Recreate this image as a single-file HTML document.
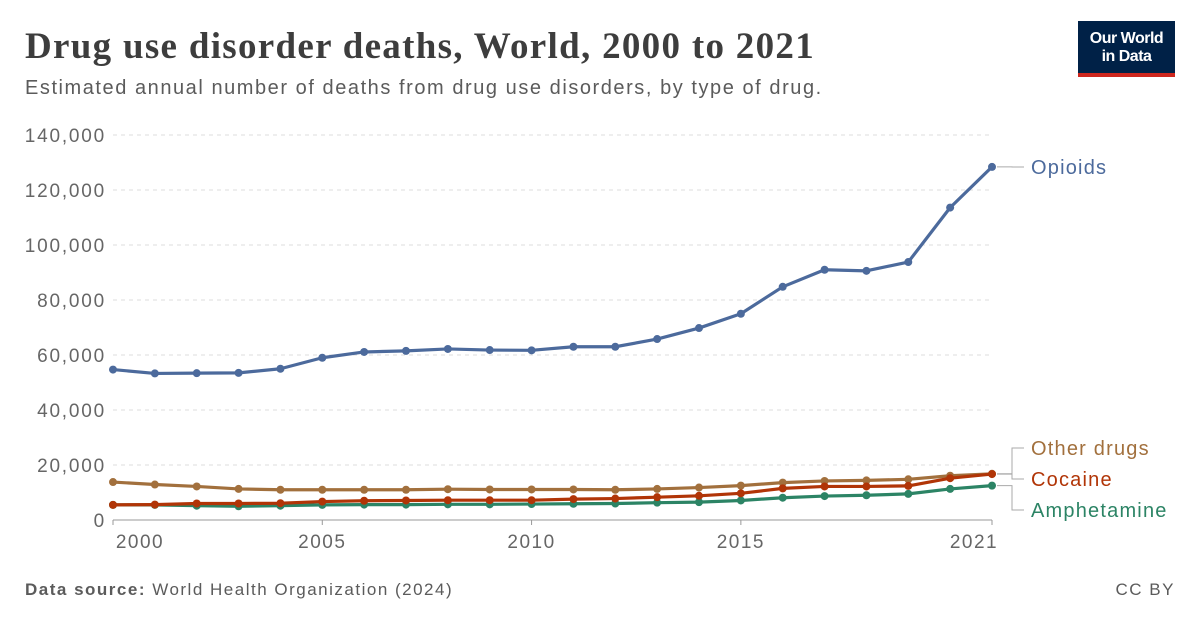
<!DOCTYPE html>
<html><head><meta charset="utf-8"><style>
body{margin:0;width:1200px;height:627px;background:#fff;font-family:"Liberation Sans",sans-serif;overflow:hidden;position:relative}
.t{position:absolute;left:25px;top:25px;font-family:"Liberation Serif",serif;font-size:37px;font-weight:bold;color:#3d3d3d;letter-spacing:1.3px}
.s{position:absolute;left:25px;top:77px;font-size:20px;color:#5b5b5b;letter-spacing:1.55px}
.f{position:absolute;top:580px;font-size:17px;color:#5b5b5b;letter-spacing:1.5px}
.logo{position:absolute;left:1078px;top:21px;width:97px;height:56px;background:#002147;border-bottom:4px solid #ce261e;color:#fff;font-size:16px;font-weight:bold;letter-spacing:-0.5px;text-align:center;line-height:18px;padding-top:9px;box-sizing:border-box}
</style></head><body>
<div class="t">Drug use disorder deaths, World, 2000 to 2021</div>
<div class="s">Estimated annual number of deaths from drug use disorders, by type of drug.</div>
<div class="logo">Our World<br>in Data</div>
<div class="f" style="left:25px"><b>Data source:</b> World Health Organization (2024)</div>
<div class="f" style="right:25px">CC BY</div>
<svg id="c" width="1200" height="627" style="position:absolute;left:0;top:0"></svg>
<script>
const years=[2000,2001,2002,2003,2004,2005,2006,2007,2008,2009,2010,2011,2012,2013,2014,2015,2016,2017,2018,2019,2020,2021];
const opioids=[54700,53300,53400,53500,55000,59000,61100,61500,62200,61800,61700,63000,63000,65800,69800,75000,84800,91000,90600,93800,113600,128400];
const otherDrugs=[13800,12900,12200,11300,11000,11000,11000,11000,11200,11100,11100,11100,11000,11300,11800,12500,13600,14200,14400,14800,16100,16800];
const cocaine=[5500,5600,6000,6000,6100,6700,7000,7100,7200,7200,7200,7600,7800,8300,8800,9700,11500,12200,12200,12400,15200,16700];
const amphetamine=[5500,5500,5200,5000,5200,5500,5600,5600,5700,5700,5800,5900,6000,6300,6500,7100,8100,8700,9000,9500,11300,12500];
const yTicks=[0,20000,40000,60000,80000,100000,120000,140000];
const xTicks=[2000,2005,2010,2015,2021];
const X=y=>113+(y-2000)*(992-113)/21;
const Y=v=>520-v*(385/140000);
const svg=document.getElementById('c');const NS='http://www.w3.org/2000/svg';
function el(t,a,txt){const e=document.createElementNS(NS,t);for(const k in a)e.setAttribute(k,a[k]);if(txt!==undefined)e.textContent=txt;svg.appendChild(e);return e;}
yTicks.forEach(v=>{
 if(v>0){const g=el('line',{x1:113,x2:992,y1:Y(v),y2:Y(v),stroke:'#ddd','stroke-dasharray':'4,4'});
 
 }
 const t=el('text',{x:106,y:Y(v)+7,'text-anchor':'end','font-size':19,fill:'#666','font-family':'Liberation Sans','letter-spacing':1.8},v.toLocaleString('en-US'));
 
 
});
const ax=el('line',{x1:113,x2:992,y1:520,y2:520,stroke:'#999'});


xTicks.forEach((yr,i)=>{
 el('line',{x1:X(yr),x2:X(yr),y1:520,y2:525,stroke:'#999'});
 let x=X(yr);if(i==0)x+=27;if(i==xTicks.length-1)x-=18;
 const t=el('text',{x:x,y:548,'text-anchor':'middle','font-size':19,fill:'#666','font-family':'Liberation Sans','letter-spacing':1.5},yr);
 
 
});
const series=[[amphetamine,'#2c8465','amphetamine'],[otherDrugs,'#a2703d','other-drugs'],[cocaine,'#b13507','cocaine'],[opioids,'#4c6a9c','opioids']];
series.forEach(([d,c,n])=>{
 const p=el('polyline',{points:d.map((v,i)=>X(years[i])+','+Y(v)).join(' '),fill:'none',stroke:c,'stroke-width':3.2,'stroke-linejoin':'round'});
 
 
 d.forEach((v,i)=>{const m=el('circle',{cx:X(years[i]),cy:Y(v),r:4,fill:c});
 
 });
});
const labels=[['Opioids','#4c6a9c',opioids[21],167],['Other drugs','#a2703d',otherDrugs[21],448],['Cocaine','#b13507',cocaine[21],479],['Amphetamine','#2c8465',amphetamine[21],510]];
labels.forEach(([t,c,v,ly])=>{
 const y0=Y(v);
 el('path',{d:`M997,${y0} H1012 V${ly} H1024`,fill:'none',stroke:'#aaa','stroke-width':1});
 const e=el('text',{x:1031,y:ly+7,'font-size':20,fill:c,'font-family':'Liberation Sans','letter-spacing':1.2},t);
 
 
});
</script>
</body></html>
